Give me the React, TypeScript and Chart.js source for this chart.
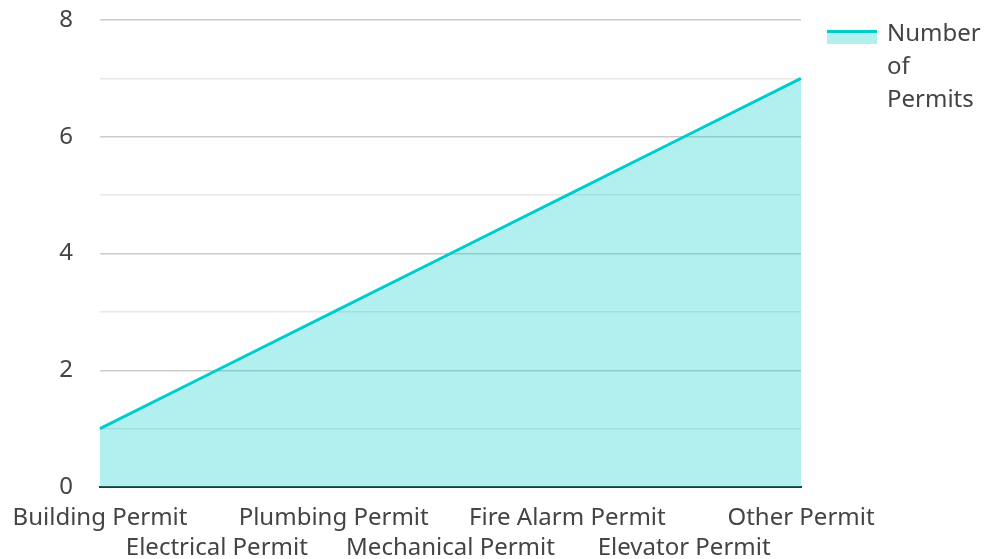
import React, { useEffect, useRef } from "react";
import { Chart, registerables } from "chart.js";

Chart.register(...registerables);

const categories = [
  "Building Permit",
  "Electrical Permit",
  "Plumbing Permit",
  "Mechanical Permit",
  "Fire Alarm Permit",
  "Elevator Permit",
  "Other Permit",
];
const permitCounts = [1, 2, 3, 4, 5, 6, 7];
const seriesName = "Number of Permits";
const legendLines = ["Number", "of", "Permits"];

const FONT = "'Noto Sans', 'Open Sans', sans-serif";
const TEXT = "#444444";
const LINE = "#00cccc";
const FILL = "rgba(0, 204, 204, 0.3)";
const FS = 24;

export default function App() {
  const ref = useRef<HTMLCanvasElement | null>(null);

  useEffect(() => {
    if (!ref.current) return;
    const chart = new Chart(ref.current, {
      type: "line",
      data: {
        labels: categories,
        datasets: [
          {
            label: seriesName,
            data: permitCounts,
            borderColor: LINE,
            backgroundColor: FILL,
            borderWidth: 3,
            fill: "origin",
            tension: 0,
            pointRadius: 0,
            pointHoverRadius: 0,
          },
        ],
      },
      options: {
        animation: false,
        responsive: false,
        maintainAspectRatio: false,
        layout: { padding: { left: 0, right: 185, top: 20, bottom: 0 } },
        plugins: {
          legend: { display: false },
          tooltip: { enabled: false },
        },
        scales: {
          x: {
            type: "category",
            offset: false,
            grid: { display: false, drawTicks: false },
            border: { display: true, color: "#333333", width: 2 },
            afterFit: (scale: any) => {
              scale.height = 72;
              scale.paddingLeft = 0;
            },
            ticks: {
              autoSkip: false,
              maxRotation: 0,
              minRotation: 0,
              padding: 16,
              color: TEXT,
              font: { family: FONT, size: FS, lineHeight: 1.25 },
              callback: function (this: any, _v: any, i: number) {
                const l = categories[i];
                return i % 2 === 0 ? [l] : ["", l];
              },
            },
          },
          y: {
            min: 0,
            max: 8,
            grid: {
              drawTicks: false,
              color: (ctx: any) =>
                ctx.tick && ctx.tick.value % 2 === 0 ? "#cccccc" : "#e8e8e8",
              lineWidth: 1.5,
            },
            border: { display: false },
            afterFit: (scale: any) => {
              scale.width = 100;
              scale.paddingTop = 0;
              scale.paddingBottom = 0;
            },
            ticks: {
              stepSize: 1,
              padding: 27,
              color: TEXT,
              font: { family: FONT, size: FS },
              callback: (v: any) => (Number(v) % 2 === 0 ? String(v) : ""),
            },
          },
        },
      },
    } as any);
    return () => chart.destroy();
  }, []);

  return (
    <div
      style={{
        position: "absolute",
        left: 0,
        top: 0,
        width: 986,
        height: 559,
        background: "#fff",
        fontFamily: FONT,
      }}
    >
      <canvas
        ref={ref}
        width={986}
        height={559}
        style={{ display: "block", position: "absolute", left: 0, top: 0 }}
      />
      <div style={{ position: "absolute", left: 827, top: 30, width: 50, height: 14 }}>
        <div style={{ height: 3, background: LINE }} />
        <div style={{ height: 11, background: FILL }} />
      </div>
      <div
        style={{
          position: "absolute",
          left: 887,
          top: 15,
          fontSize: FS,
          lineHeight: "33px",
          color: TEXT,
        }}
      >
        {legendLines.map((t) => (
          <div key={t}>{t}</div>
        ))}
      </div>
    </div>
  );
}
